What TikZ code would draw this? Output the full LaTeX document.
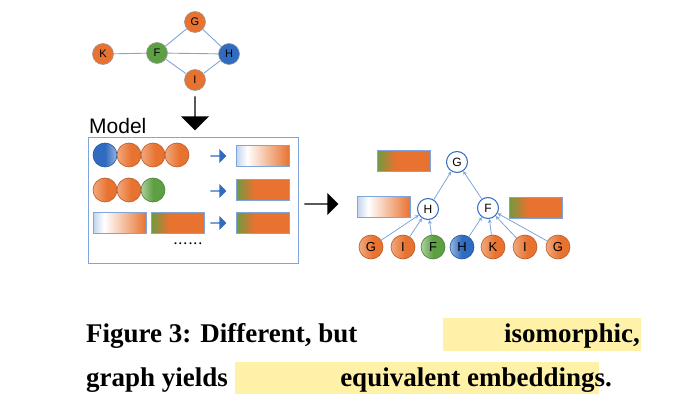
\documentclass[tikz,border=0pt]{standalone}
\usepackage{fontspec}
\setmainfont{Liberation Serif}
\newfontfamily\sansf{Liberation Sans}
\usetikzlibrary{arrows.meta,shapes.arrows}
\definecolor{or}{HTML}{E8722F}
\definecolor{gr}{HTML}{5DA043}
\definecolor{bl}{HTML}{2F6BC0}
\definecolor{ln}{HTML}{7FA6DC}
\definecolor{hl}{HTML}{FFF2A8}
\pgfdeclarehorizontalshading{bwo}{100bp}{color(0bp)=(bl); color(35bp)=(white); color(75bp)=(or); color(100bp)=(or)}
\pgfdeclarehorizontalshading{wgo}{100bp}{color(0bp)=(white); color(22bp)=(gr); color(42bp)=(or); color(100bp)=(or)}
\pgfdeclarehorizontalshading{bgo}{100bp}{color(0bp)=(bl); color(22bp)=(gr); color(42bp)=(or); color(100bp)=(or)}
\pgfdeclarehorizontalshading{wo}{100bp}{color(0bp)=(white!70!or); color(55bp)=(or); color(100bp)=(or)}
\pgfdeclarehorizontalshading{bw}{100bp}{color(0bp)=(bl); color(50bp)=(bl); color(100bp)=(white)}
\pgfdeclarehorizontalshading{gw}{100bp}{color(0bp)=(gr); color(50bp)=(gr); color(100bp)=(white)}
\begin{document}
\begin{tikzpicture}[x=1pt,y=-1pt,
  gn/.style={circle,draw=white!60!black,line width=0.6pt,minimum size=21pt,inner sep=0pt,font=\sansf\fontsize{11}{11}\selectfont},
  onode/.style={gn,fill=or},
  tn/.style={circle,draw=bl,line width=1pt,fill=white,minimum size=21pt,inner sep=0pt,font=\sansf\fontsize{12}{12}\selectfont},
  ball/.style={circle,draw=or!80!black,line width=0.6pt,minimum size=24pt,inner sep=0pt},
  bar/.style={draw=ln,line width=1pt,minimum width=53pt,minimum height=21pt,inner sep=0pt},
  leaf/.style={circle,draw=or!80!black,line width=0.6pt,minimum size=24pt,inner sep=0pt,shading=wo,font=\sansf\fontsize{13}{13}\selectfont},
  ed/.style={ln,line width=0.9pt},
  te/.style={ln,line width=0.8pt,-{Stealth[length=4pt,width=4pt]}},
  barr/.style={single arrow,fill=bl,draw=none,minimum height=16pt,minimum width=14pt,single arrow head extend=2pt,inner sep=0pt},
  hlt/.style={fill=hl,inner sep=0pt}
]
\useasboundingbox (0,0) rectangle (678,409);
% input graph
\node[onode] (G) at (195,22) {G};
\node[onode] (K) at (103,54) {K};
\node[gn,fill=gr] (F) at (157,53) {F};
\node[gn,fill=bl] (H) at (229,54) {H};
\node[onode] (I) at (195,80) {I};
\draw[ed] (K)--(F) (F)--(G) (F)--(H) (F)--(I) (G)--(H) (I)--(H);
% down arrow
\node[single arrow,fill=black,shape border rotate=270,minimum height=34pt,minimum width=28pt,single arrow head extend=5pt,inner sep=0pt] (down) at (195,113) {};
\node[font=\sansf\fontsize{21}{21}\selectfont,anchor=base west,inner sep=0pt] (model) at (89,134) {Model};
\node[draw=ln,line width=1pt,minimum width=210pt,minimum height=125pt,inner sep=0pt] (box) at (193,200.5) {};
% row 1
\node[ball,draw=bl!80!black,shading=bw] (a1) at (105,155) {};
\node[ball,shading=wo] (a2) at (129,155) {};
\node[ball,shading=wo] (a3) at (153,155) {};
\node[ball,shading=wo] (a4) at (177,155) {};
\node[barr] (r1) at (218,156) {};
\node[bar,shading=bwo] (b1) at (263,156) {};
% row 2
\node[ball,shading=wo] (c1) at (105,190) {};
\node[ball,shading=wo] (c2) at (129,190) {};
\node[ball,draw=gr!80!black,shading=gw,shading angle=180] (c3) at (153,190) {};
\node[barr] (r2) at (218,191) {};
\node[bar,shading=wgo] (b2) at (263,190) {};
% row 3
\node[bar,shading=bwo] (d1) at (120,223) {};
\node[bar,shading=wgo] (d2) at (178,223) {};
\node[barr] (r3) at (218,223) {};
\node[bar,shading=bgo] (b3) at (263,223) {};
\node[font=\bfseries\fontsize{12}{12}\selectfont] (dots) at (188,244) {.\,.\,.\,.\,.\,.};
% right arrow
\node[single arrow,fill=black,minimum height=34pt,minimum width=22pt,single arrow head extend=4pt,inner sep=0pt] (rt) at (321,204) {};
% tree
\node[tn] (tG) at (457,162) {G};
\node[tn] (tH) at (428,209) {H};
\node[tn] (tF) at (488,208) {F};
\node[bar,shading=bgo] (eG) at (404,161) {};
\node[bar,shading=bwo] (eH) at (384,207) {};
\node[bar,shading=wgo] (eF) at (536,208) {};
\node[leaf] (l1) at (371,247) {G};
\node[leaf] (l2) at (403,247) {I};
\node[leaf,draw=gr!80!black,shading=gw,shading angle=180] (l3) at (433,247) {F};
\node[leaf,draw=bl!80!black,shading=bw,shading angle=180] (l4) at (462,247) {H};
\node[leaf] (l5) at (493,247) {K};
\node[leaf] (l6) at (525,247) {I};
\node[leaf] (l7) at (558,247) {G};
\draw[te] (tH)--(tG);
\draw[te] (tF)--(tG);
\foreach \l in {l1,l2,l3} \draw[te] (\l)--(tH);
\foreach \l in {l4,l5,l6,l7} \draw[te] (\l)--(tF);
% caption
\begin{scope}[every node/.style={font=\bfseries\fontsize{27}{30}\selectfont,inner sep=0pt}]
\fill[hl] (443,318) rectangle (641,351);
\fill[hl] (235,362) rectangle (599,394);
\node[anchor=base west] (c1a) at (86,342) {Figure 3: Different, but};
\node[anchor=base east] (c1b) at (640,342) {isomorphic,};
\node[anchor=base west] (c2a) at (86,386) {graph yields};
\node[anchor=base east] (c2b) at (612,386) {equivalent embeddings.};
\end{scope}
\end{tikzpicture}
\end{document}
